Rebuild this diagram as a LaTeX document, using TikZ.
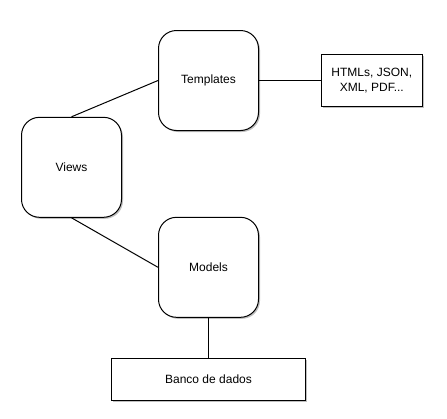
\documentclass[tikz,border=0pt]{standalone}
\usepackage{fontspec}
\setmainfont{Liberation Sans}
\usetikzlibrary{shadows}
\begin{document}
\begin{tikzpicture}[x=1pt,y=-1pt,
  rbox/.style={draw=black,fill=white,line width=1pt,rounded corners=18pt,minimum width=100pt,minimum height=100pt,inner sep=0pt,font=\fontsize{12}{14.5}\selectfont,drop shadow={shadow xshift=1.5pt,shadow yshift=-1.5pt,opacity=0.25,fill=black}},
  sbox/.style={draw=black,fill=white,line width=1pt,inner sep=0pt,font=\fontsize{12}{14.5}\selectfont,align=center,drop shadow={shadow xshift=1.5pt,shadow yshift=-1.5pt,opacity=0.25,fill=black}},
  conn/.style={draw=black,line width=1pt}]
\useasboundingbox (0,0) rectangle (447,418);
\node[rbox] (templates) at (208.5,80.5) {Templates};
\node[rbox] (views) at (71.5,167.3) {Views};
\node[rbox] (models) at (208.5,267.3) {Models};
\node[sbox,minimum width=101pt,minimum height=52.5pt] (out) at (371.8,80.5) {HTMLs, JSON,\\XML, PDF...};
\node[sbox,minimum width=194.5pt,minimum height=42.5pt] (db) at (208.5,379.5) {Banco de dados};
\draw[conn] (views.north) -- (templates.west);
\draw[conn] (views.south) -- (models.west);
\draw[conn] (templates.east) -- (out.west);
\draw[conn] (models.south) -- (db.north);
\end{tikzpicture}
\end{document}
